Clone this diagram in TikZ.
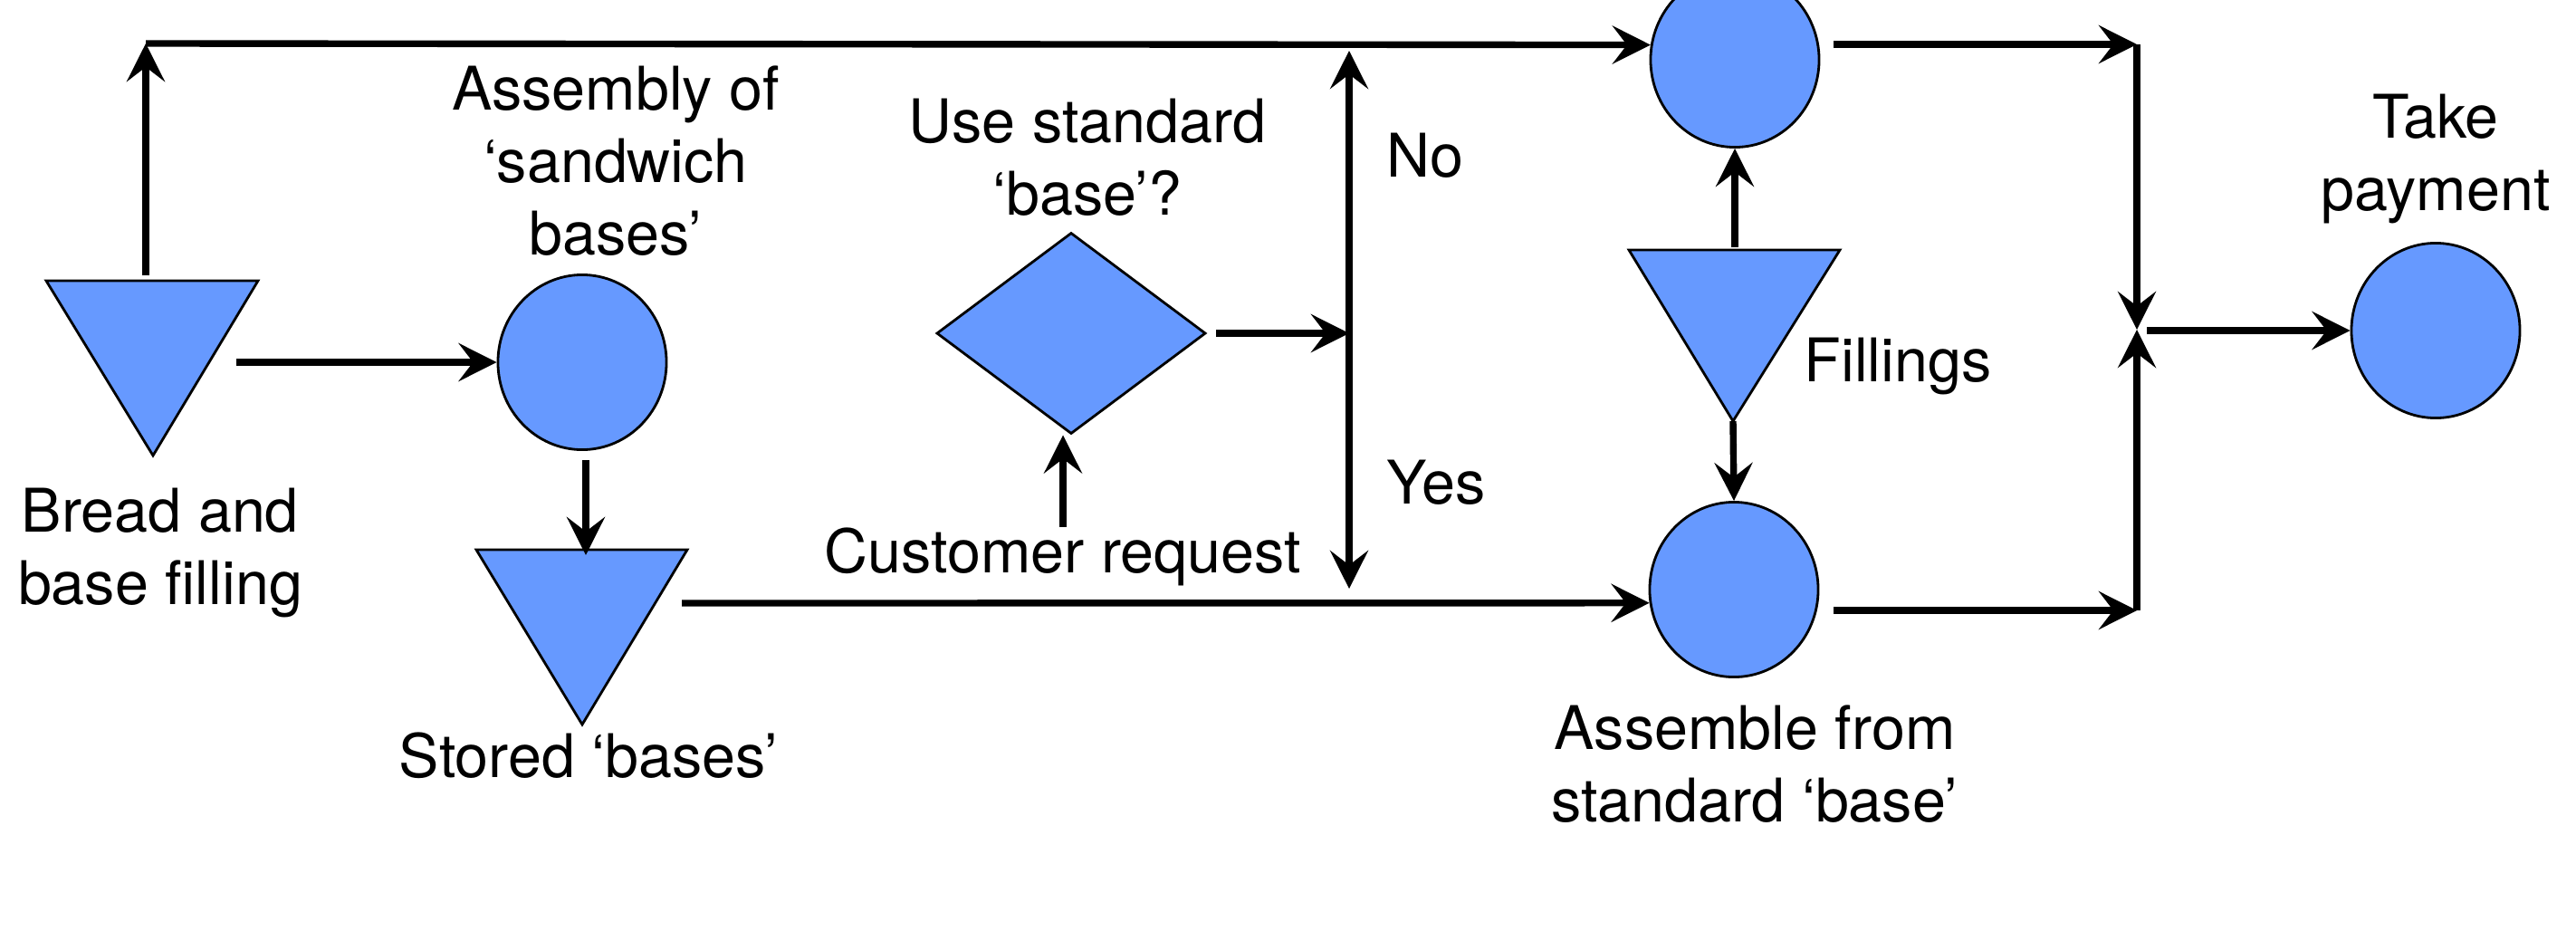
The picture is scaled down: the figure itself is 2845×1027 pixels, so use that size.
\documentclass[tikz,border=0pt]{standalone}
\usepackage{fontspec}
\setmainfont{TeX Gyre Heros}
\usetikzlibrary{arrows.meta,shapes.geometric}
\definecolor{procblue}{RGB}{102,153,255}
\begin{document}
\begin{tikzpicture}[x=0.01cm,y=-0.01cm,
  conn/.style={line width=2.1pt},
  tip/.tip={Stealth[length=0.42cm,width=0.42cm,inset=0.16cm]},
  arr/.style={conn,-tip},
  darr/.style={conn,tip-tip},
  proc/.style={ellipse,draw=black,line width=0.8pt,fill=procblue,minimum width=1.86cm,minimum height=1.93cm,inner sep=0pt},
  store/.style={draw=black,line width=0.8pt,fill=procblue},
  decide/.style={diamond,draw=black,line width=0.8pt,fill=procblue,minimum width=2.97cm,minimum height=2.22cm,inner sep=0pt},
  lbl/.style={font=\fontsize{18.9}{22.7}\selectfont,inner sep=0pt,align=center,anchor=base},
  lbll/.style={lbl,anchor=base west}]
\useasboundingbox (0,0) rectangle (2845,1027);

% storage triangles
\filldraw[store] (51,310) -- (285,310) -- (169,503) -- cycle;
\filldraw[store] (526,607) -- (759,607) -- (643,800) -- cycle;
\filldraw[store] (1799,276) -- (2032,276) -- (1914,465) -- cycle;
\coordinate (breadtop) at (161,304);
\coordinate (breadright) at (261,400);
\coordinate (storedtop) at (647,613);
\coordinate (storedright) at (753,666);
\coordinate (filltop) at (1916,273);
\coordinate (fillapex) at (1914,465);

% process circles
\node[proc] (sand) at (643,400) {};
\node[proc] (topc) at (1916,66) {};
\node[proc] (botc) at (1915,651) {};
\node[proc] (payc) at (2690,365) {};

% decision
\node[decide] (dia) at (1183,368) {};

% labels (base anchor = baseline of the last line)
\node[lbl] (lbread) at (177,667) {Bread and\\base filling};
\node[lbl] (lsand) at (680,281) {Assembly of\\‘sandwich\\bases’};
\node[lbl] (lstored) at (650,858) {Stored ‘bases’};
\node[lbl] (ldia) at (1201,237) {Use standard\\‘base’?};
\node[lbl] (cust) at (1174,632) {Customer request};
\node[lbll] (lno) at (1531,195) {No};
\node[lbll] (lyes) at (1531,556) {Yes};
\node[lbll] (lfill) at (1992,421) {Fillings};
\node[lbl] (lbot) at (1938,907) {Assemble from\\standard ‘base’};
\node[lbl] (lpay) at (2690,232) {Take\\payment};

% junction coordinates
\coordinate (cornerTL) at (161,48);
\coordinate (sandout) at (647,508);
\coordinate (diaout) at (1343,368);
\coordinate (vjoin) at (1490,368);
\coordinate (vtop) at (1490,56);
\coordinate (vbot) at (1490,650);
\coordinate (topout) at (2025,49);
\coordinate (cornerTR) at (2360,49);
\coordinate (botout) at (2025,674);
\coordinate (cornerBR) at (2360,674);
\coordinate (merge) at (2360,364);
\coordinate (mergeout) at (2371,365);

% connectors
\draw[arr] (breadtop) -- (cornerTL);
\draw[arr] (cornerTL) -- (topc.170);
\draw[arr] (breadright) -- (sand.west);
\draw[arr] (sandout) -- (storedtop);
\draw[arr] (storedright) -- (botc.189);
\draw[arr] (cust.north) -- (cust.north |- dia.south);
\draw[arr] (diaout) -- (vjoin);
\draw[darr] (vtop) -- (vbot);
\draw[arr] (filltop) -- (topc.south);
\draw[arr] (fillapex) -- (botc.north);
\draw[arr] (topout) -- (cornerTR);
\draw[arr] (botout) -- (cornerBR);
\draw[arr] (cornerTR) -- (merge);
\draw[arr] (cornerBR) -- (merge);
\draw[arr] (mergeout) -- (payc.west);
\end{tikzpicture}
\end{document}
